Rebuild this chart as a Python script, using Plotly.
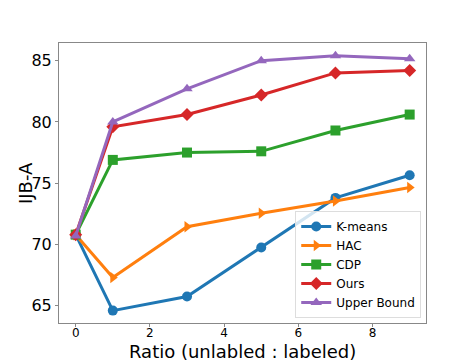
import plotly.graph_objects as go

ratios = [0, 1, 3, 5, 7, 9]
kmeans = [70.8, 64.6, 65.75, 69.75, 73.8, 75.65]
hac = [70.8, 67.3, 71.45, 72.55, 73.55, 74.65]
cdp = [70.8, 76.9, 77.5, 77.6, 79.3, 80.6]
ours = [70.8, 79.6, 80.6, 82.2, 84.0, 84.2]
upper = [70.7, 80.0, 82.7, 85.0, 85.4, 85.15]

series = [
    ("K-means", kmeans, "#1f77b4", "circle"),
    ("HAC", hac, "#ff7f0e", "triangle-right"),
    ("CDP", cdp, "#2ca02c", "square"),
    ("Ours", ours, "#d62728", "diamond"),
    ("Upper Bound", upper, "#9467bd", "triangle-up"),
]

fig = go.Figure()
for name, vals, color, sym in series:
    fig.add_trace(go.Scatter(
        x=ratios, y=vals, name=name, mode="lines+markers",
        line=dict(color=color, width=3),
        marker=dict(symbol=sym, size=10, color=color),
    ))

font = "DejaVu Sans"
fig.update_layout(
    width=474, height=364,
    margin=dict(l=59, r=48, t=43, b=41, autoexpand=False),
    paper_bgcolor="white", plot_bgcolor="white",
    font=dict(family=font, color="black"),
    showlegend=True,
    legend=dict(x=0.987, y=0.018, xanchor="right", yanchor="bottom",
                bgcolor="rgba(255,255,255,0.8)", bordercolor="#dddddd", borderwidth=1,
                font=dict(size=12, family=font), tracegroupgap=0, itemwidth=30),
    xaxis=dict(range=[-0.45, 9.44], tickvals=[0, 2, 4, 6, 8], showgrid=False, zeroline=False,
               showline=True, linecolor="#888888", linewidth=1, mirror=True,
               ticks="outside", ticklen=3, tickcolor="#888888", automargin=False,
               ticklabelstandoff=-4,
               tickfont=dict(size=12, family=font)),
    yaxis=dict(range=[63.59, 86.44], tickvals=[65, 70, 75, 80, 85], showgrid=False, zeroline=False,
               showline=True, linecolor="#888888", linewidth=1, mirror=True,
               ticks="outside", ticklen=3, tickcolor="#888888", automargin=False,
               tickfont=dict(size=16, family=font)),
    annotations=[
        dict(text="Ratio (unlabled : labeled)", xref="paper", yref="paper",
             x=0.5, y=-0.0, yshift=-28, xanchor="center", yanchor="middle",
             showarrow=False, font=dict(size=18, family=font)),
        dict(text="IJB-A", xref="paper", yref="paper", textangle=-90,
             x=0, xshift=-34, y=0.5, xanchor="center", yanchor="middle",
             showarrow=False, font=dict(size=18, family=font)),
    ],
)

fig.write_html("out.html", config={"displayModeBar": False},
               post_script="document.body.style.margin='0';document.body.style.padding='0';")
